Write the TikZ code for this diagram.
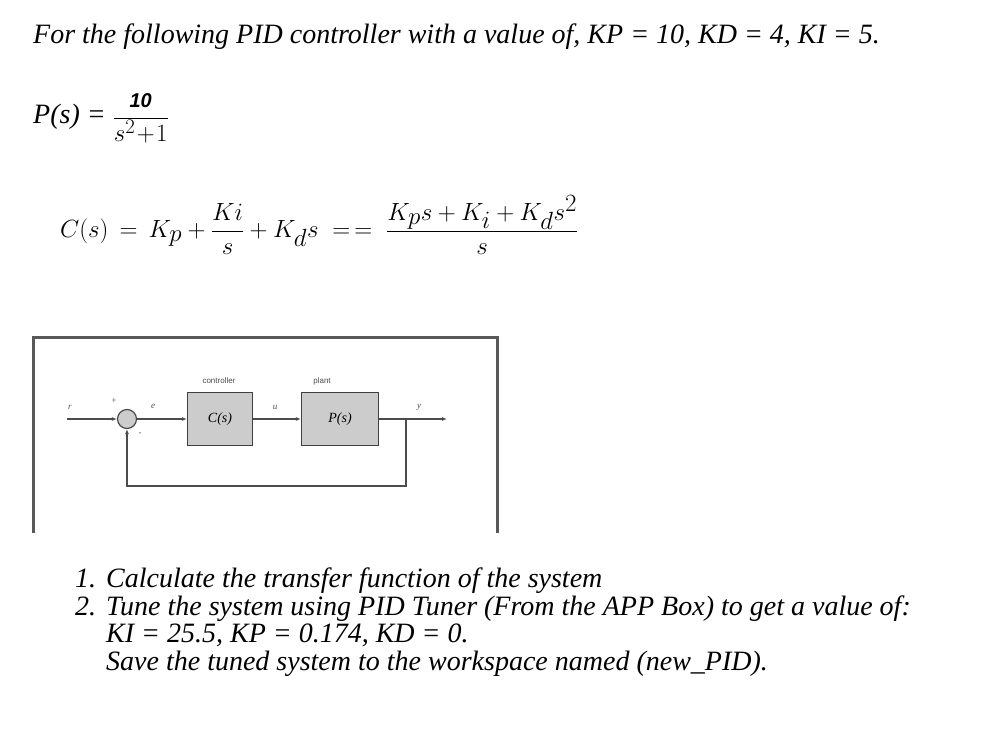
\documentclass[tikz,border=0pt]{standalone}
\usepackage{fontspec}
\setmainfont{Liberation Serif}
\setsansfont{Liberation Sans}
\usetikzlibrary{arrows.meta}
\begin{document}
\begin{tikzpicture}[x=1pt,y=-1pt,
  txt/.style={anchor=west,inner sep=0pt,font=\fontsize{28}{27}\selectfont\itshape},
  blk/.style={draw=black!75,fill=black!20,line width=1.2pt,minimum width=65pt,minimum height=53pt,font=\fontsize{14}{16}\selectfont\itshape},
  sig/.style={draw=black!70,line width=1.2pt},
  arr/.style={sig,-{Latex[length=5pt,width=4pt]}},
  small/.style={font=\fontsize{9}{10}\selectfont\itshape,text=black!70,inner sep=0pt},
  frame/.style={draw=black!65,line width=3pt}]
\useasboundingbox (0,0) rectangle (1002,755);
\node[txt] (title) at (33,37) {For the following PID controller with a value of, KP = 10, KD = 4, KI = 5.};
\node[txt] (ps) at (33,118) {P(s) = \raisebox{-0.5pt}{$\displaystyle\frac{\textsf{\textbf{\fontsize{20}{20}\selectfont 10}}}{s^2\!+\!1}$}};
\node[anchor=west,inner sep=0pt,font=\fontsize{33}{36}\selectfont] (cs) at (60,225)
  {$\displaystyle C(s) \,=\, K_p + \frac{Ki}{s} + K_d s \;=\,=\; \frac{K_p s + K_i + K_d s^2}{s}$};
% frame
\draw[frame] (33,533) -- (33,337) -- (497,337) -- (497,533);
% diagram
\node[circle,draw=black!70,fill=black!20,line width=1.2pt,minimum size=19pt,inner sep=0pt] (sum) at (127,419) {};
\node[blk] (C) at (220,419) {C(s)};
\node[blk,minimum width=77pt] (P) at (340,419) {P(s)};
\coordinate (in) at (67,419);
\coordinate (br) at (406,419);
\coordinate (out) at (447,419);
\coordinate (fb) at (406,486);
\coordinate (fs) at (127,486);
\draw[arr] (in) -- (sum);
\draw[arr] (sum) -- (C);
\draw[arr] (C) -- (P);
\draw[sig] (P.east) -- (br);
\draw[arr] (br) -- (out);
\draw[arr] (br) -- (fb) -- (fs) -- (sum);
\node[small] (lr) at (70,407) {r};
\node[small] (lp) at (114,401) {+};
\node[small] (lm) at (140,434) {-};
\node[small] (le) at (153,406) {e};
\node[small] (lu) at (275,407) {u};
\node[small] (ly) at (419,407) {y};
\node[small,font=\fontsize{8}{9}\selectfont\sffamily] (lc) at (219,381) {controller};
\node[small,font=\fontsize{8}{9}\selectfont\sffamily] (lpl) at (322,381) {plant};
% list
\node[txt,anchor=north west,align=left] (list) at (75,568) {%
\begin{tabular}{@{}r@{\hspace{10pt}}l@{}}
1. & Calculate the transfer function of the system\\
2. & Tune the system using PID Tuner (From the APP Box) to get a value of:\\
 & KI = 25.5, KP = 0.174, KD = 0.\\
 & Save the tuned system to the workspace named (new\_PID).
\end{tabular}};
\end{tikzpicture}
\end{document}
